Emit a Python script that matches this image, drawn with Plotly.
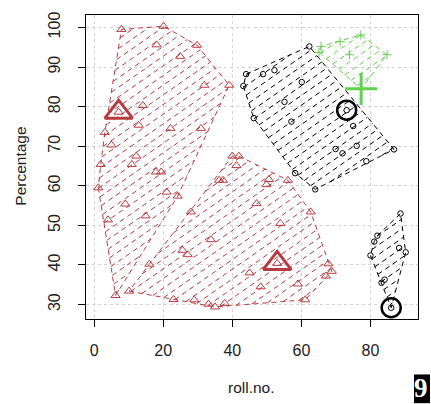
import numpy as np
import plotly.graph_objects as go

# ---------------- data ----------------
# cluster 1 : red triangles, upper-left
c1_x = [7.9, 20.1, 18.1, 29.8, 24.9, 31.9, 39.1, 14.1, 7.1, 12.9, 22.1, 30.9, 3.1,
        5.0, 12.2, 10.9, 1.9, 17.9, 19.4, 1.2, 21.0, 24.2, 9.0, 14.9, 4.0, 6.2]
c1_y = [99.5, 100.3, 95.6, 95.5, 92.7, 85.4, 85.4, 80.3, 78.6, 75.3, 74.5, 74.5, 73.5,
        70.3, 67.5, 65.4, 65.4, 63.5, 63.5, 59.5, 58.4, 57.4, 55.4, 52.4, 51.4, 32.3]
# cluster 2 : red triangles, lower
c2_x = [40.0, 41.9, 41.2, 36.2, 37.3, 28.0, 33.8, 25.6, 27.1, 16.0, 10.1, 23.0, 29.0,
        33.1, 35.0, 37.8, 50.6, 49.9, 56.1, 47.0, 62.7, 53.9, 53.0, 67.8, 68.8, 67.1,
        45.0, 48.2, 59.0, 61.1]
c2_y = [67.5, 67.5, 65.1, 61.4, 61.4, 53.4, 46.4, 43.7, 42.6, 40.2, 33.4, 31.3, 31.2,
        30.1, 29.4, 30.3, 61.6, 60.3, 61.4, 55.5, 53.4, 50.5, 40.4, 40.3, 38.4, 37.2,
        38.0, 34.5, 35.2, 31.2]
# cluster 3 : black circles, upper-right
c3_x = [62.3, 44.0, 48.9, 52.2, 43.2, 60.1, 55.1, 46.2, 57.1, 73.1, 75.0, 69.9, 71.9,
        76.0, 78.8, 86.8, 58.2, 64.0]
c3_y = [95.2, 88.2, 88.2, 89.2, 85.2, 86.2, 81.2, 77.1, 76.2, 79.1, 75.1, 69.3, 68.2,
        70.1, 66.2, 69.2, 63.2, 59.1]
# cluster 4 : black circles, lower-right
c4_x = [88.7, 82.0, 81.1, 80.0, 88.3, 90.2, 84.1, 83.2, 86.0]
c4_y = [53.0, 47.4, 45.9, 42.4, 44.3, 43.2, 36.3, 35.5, 29.2]
# cluster 5 : green crosses, top-right
c5_x = [65.7, 65.1, 71.2, 77.2, 73.9, 84.8, 77.3]
c5_y = [95.2, 93.7, 96.4, 98.1, 93.1, 93.1, 84.5]

# cluster centres (medoids)
centre_x = [7.1, 53.0, 73.1, 86.0, 77.3]
centre_y = [78.6, 40.4, 79.1, 29.2, 84.5]

x_ticks = [0, 20, 40, 60, 80]
y_ticks = [30, 40, 50, 60, 70, 80, 90, 100]
x_label = "roll.no."
y_label = "Percentage"
corner_text = "9"

# ---------------- styling ----------------
RED = "#B63C42"
BLACK = "#000000"
GREEN = "#61D04F"
clusters = [
    (c1_x, c1_y, RED, "triangle-up-open", 8, 24, 3),
    (c2_x, c2_y, RED, "triangle-up-open", 8, 24, 3),
    (c3_x, c3_y, BLACK, "circle-open", 5.5, 19, 2.5),
    (c4_x, c4_y, BLACK, "circle-open", 5.5, 19, 2.5),
    (c5_x, c5_y, GREEN, "cross-thin-open", 6.5, 23, 3),
]

W, H = 431, 404
ML, MR, MT, MB = 86, 12, 12, 85
PW, PH = W - ML - MR, H - MT - MB

allx = c1_x + c2_x + c3_x + c4_x + c5_x
ally = c1_y + c2_y + c3_y + c4_y + c5_y
ex = 0.04 * (max(allx) - min(allx))
ey = 0.04 * (max(ally) - min(ally))
xr = [min(allx) - ex, max(allx) + ex]
yr = [min(ally) - ey, max(ally) + ey]
PX = PW / (xr[1] - xr[0])
PY = PH / (yr[1] - yr[0])


def convex_hull(xs, ys):
    pts = sorted(set(zip(xs, ys)))

    def cross(o, a, b):
        return (a[0] - o[0]) * (b[1] - o[1]) - (a[1] - o[1]) * (b[0] - o[0])

    lower, upper = [], []
    for p in pts:
        while len(lower) >= 2 and cross(lower[-2], lower[-1], p) <= 0:
            lower.pop()
        lower.append(p)
    for p in reversed(pts):
        while len(upper) >= 2 and cross(upper[-2], upper[-1], p) <= 0:
            upper.pop()
        upper.append(p)
    return lower[:-1] + upper[:-1]


def hatch(h, spacing=8.0, angle=35.0):
    th = np.radians(angle)
    n = np.array([-np.sin(th), np.cos(th)])
    d = np.array([np.cos(th), np.sin(th)])
    P = np.array([[x * PX, y * PY] for x, y in h])
    proj = P @ n
    cs = np.arange(np.ceil(proj.min() / spacing) * spacing, proj.max(), spacing)
    hx, hy = [], []
    for c in cs:
        pts = []
        for i in range(len(P)):
            a, b = P[i], P[(i + 1) % len(P)]
            fa, fb = a @ n - c, b @ n - c
            if (fa > 0) != (fb > 0):
                t = fa / (fa - fb)
                pts.append(a + t * (b - a))
        if len(pts) < 2:
            continue
        pts.sort(key=lambda q: q @ d)
        p0, p1 = pts[0], pts[-1]
        hx += [p0[0] / PX, p1[0] / PX, None]
        hy += [p0[1] / PY, p1[1] / PY, None]
    return hx, hy


fig = go.Figure()

for xs, ys, col, sym, s_small, s_big, lw_big in clusters:
    h = convex_hull(xs, ys)
    hx, hy = hatch(h)
    fig.add_trace(go.Scatter(x=hx, y=hy, mode="lines",
                             line=dict(color=col, width=1, dash="5px,4px"),
                             hoverinfo="skip"))
    bx = [p[0] for p in h] + [h[0][0]]
    by = [p[1] for p in h] + [h[0][1]]
    fig.add_trace(go.Scatter(x=bx, y=by, mode="lines",
                             line=dict(color=col, width=1, dash="5px,4px"),
                             hoverinfo="skip"))
    fig.add_trace(go.Scatter(x=xs, y=ys, mode="markers",
                             marker=dict(symbol=sym, size=s_small, color=col,
                                         line=dict(color=col, width=1))))

for i, (xs, ys, col, sym, s_small, s_big, lw_big) in enumerate(clusters):
    fig.add_trace(go.Scatter(x=[centre_x[i]], y=[centre_y[i]], mode="markers",
                             marker=dict(symbol=sym, size=s_big, color=col,
                                         line=dict(color=col, width=lw_big))))

axis_common = dict(
    showline=True, linecolor="black", linewidth=1, mirror=True,
    ticks="outside", ticklen=7, tickcolor="black", tickwidth=1,
    showgrid=True, gridcolor="#d3d3d3", griddash="dot", gridwidth=1,
    zeroline=False,
    tickfont=dict(family="Liberation Sans, Arial, sans-serif", size=16, color="#222"),
)

fig.update_layout(
    width=W, height=H,
    margin=dict(l=ML, r=MR, t=MT, b=MB),
    plot_bgcolor="white", paper_bgcolor="white",
    showlegend=False,
    xaxis=dict(range=xr, tickvals=x_ticks, ticklabelstandoff=10, **axis_common),
    yaxis=dict(range=yr, tickvals=y_ticks, tickangle=-90, ticklabelstandoff=12, **axis_common),
    font=dict(family="Liberation Sans, Arial, sans-serif"),
)


def px_to_paper(px, py):
    return (px - ML) / PW, (H - MB - py) / PH


ax, ay = px_to_paper(252, 388)
fig.add_annotation(text=x_label, x=ax, y=ay, xref="paper", yref="paper",
                   showarrow=False, xanchor="center", yanchor="middle",
                   font=dict(size=15.5, color="#222"))
ax, ay = px_to_paper(20, 165)
fig.add_annotation(text=y_label, x=ax, y=ay, xref="paper", yref="paper",
                   showarrow=False, xanchor="center", yanchor="middle", textangle=-90,
                   font=dict(size=15.5, color="#222"))

x0, y1 = px_to_paper(415, 375)
x1, y0 = px_to_paper(431, 404)
fig.add_shape(type="rect", xref="paper", yref="paper", x0=x0, x1=x1, y0=y0, y1=y1,
              fillcolor="black", line=dict(width=0), layer="above")
cx, cy = px_to_paper(422, 389)
fig.add_annotation(text="<b>" + corner_text + "</b>", x=cx, y=cy, xref="paper", yref="paper",
                   showarrow=False, xanchor="center", yanchor="middle", borderpad=0,
                   font=dict(family="Liberation Serif, Times New Roman, serif", size=27, color="white"))

fig.write_html("out.html",
               config={"displayModeBar": False},
               post_script="document.body.style.margin='0';document.body.style.overflow='hidden';")
